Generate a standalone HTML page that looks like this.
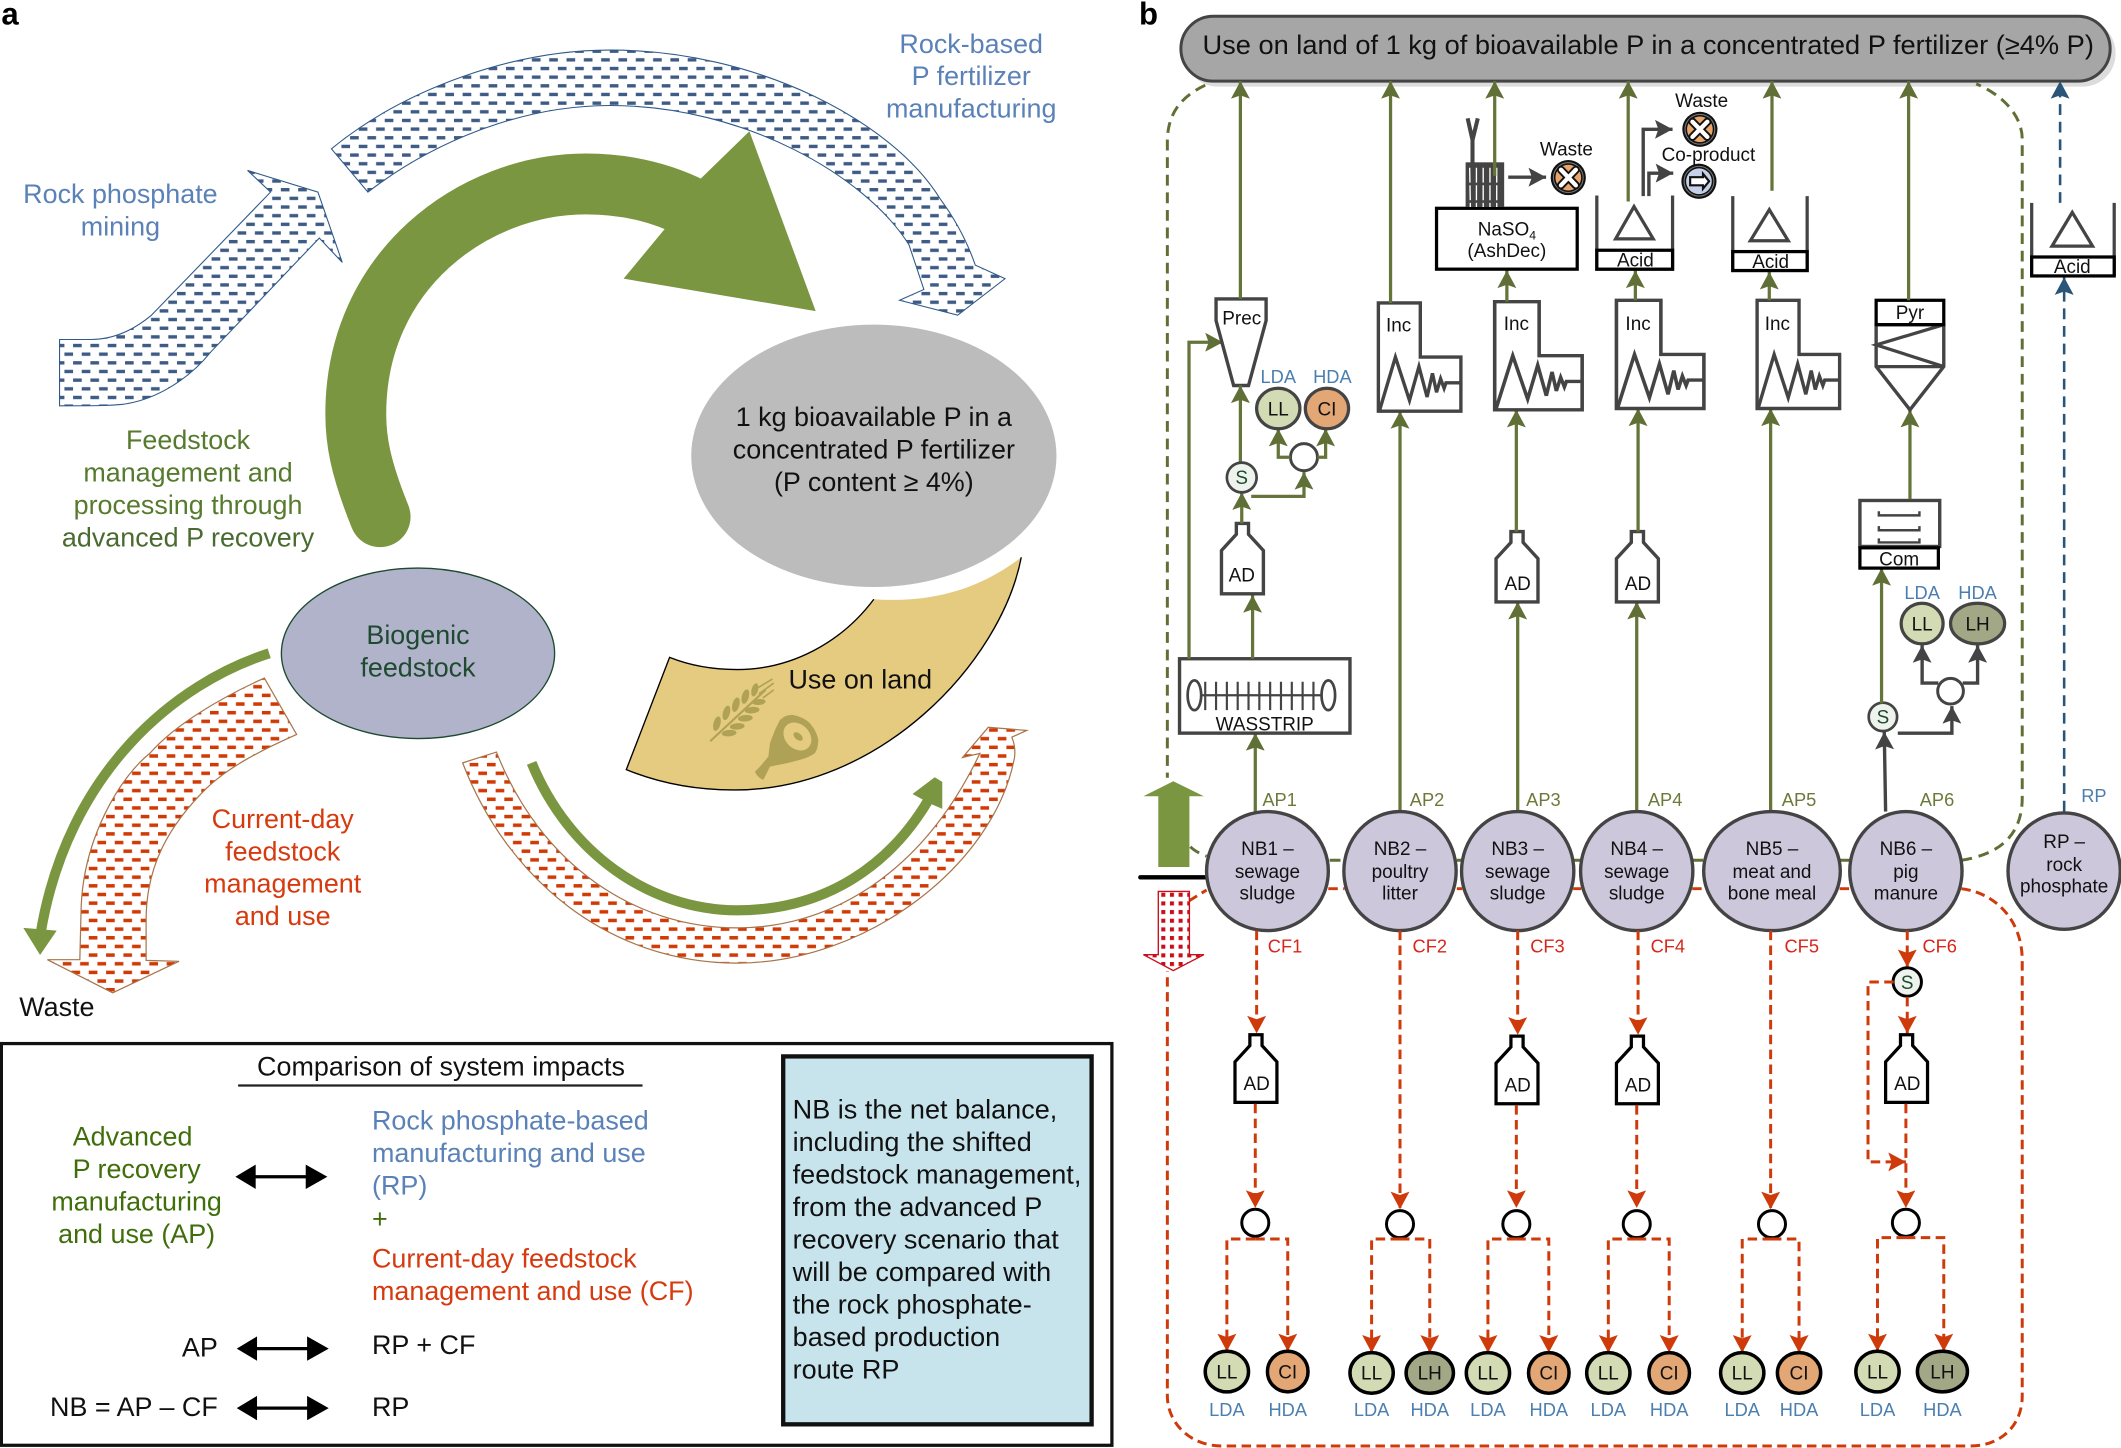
<!DOCTYPE html>
<html><head><meta charset="utf-8"><style>
html,body{margin:0;padding:0;background:#fff}
svg{display:block}
text{font-family:"Liberation Sans",sans-serif}
.l{font-size:19.9px}
.m{font-size:14px;fill:#111}
.s{font-size:13.5px}
.c{text-anchor:middle}
.b{fill:#5a82b8}.g{fill:#567a2e}.r{fill:#d63a0f}
.ol{fill:none;stroke:#657539;stroke-width:2.4}
.gy{fill:none;stroke:#444;stroke-width:2.5}
.rd{fill:none;stroke:#cf3a0a;stroke-width:2.2;stroke-dasharray:7 4}
.nv{fill:none;stroke:#2a5578;stroke-width:1.9;stroke-dasharray:8 5}
.nb{fill:#cdc7dc;stroke:#444;stroke-width:2.5}
.box{fill:#fff;stroke:#444;stroke-width:2.5}
.bk{fill:#fff;stroke:#000;stroke-width:2.4}
.ll{fill:#d3dbb5}.ci{fill:#e2a775}.lh{fill:#a2a886}
.lda{fill:#4a7fb0;font-size:13.5px;text-anchor:middle}
.ap{fill:#6b7a3a;font-size:13.5px}
.cf{fill:#d8261a;font-size:13.5px}
</style></head><body>
<svg width="2121" height="1448" viewBox="0 0 1568 1070.5" xmlns="http://www.w3.org/2000/svg">
<defs>
<pattern id="pb" x="54" y="254.2" width="12.8" height="12.8" patternUnits="userSpaceOnUse"><rect width="12.8" height="12.8" fill="#fff"/><rect x="0" y="0" width="6.4" height="2.5" fill="#3d5b84"/><rect x="6.4" y="6.4" width="6.4" height="2.5" fill="#3d5b84"/></pattern>
<pattern id="pr" x="40" y="500" width="12.8" height="12.8" patternUnits="userSpaceOnUse"><rect width="12.8" height="12.8" fill="#fff"/><rect x="0" y="0" width="6.4" height="2.6" fill="#d03a05"/><rect x="6.4" y="6.4" width="6.4" height="2.6" fill="#d03a05"/></pattern>
<pattern id="pd" x="858.5" y="660" width="6.4" height="6.4" patternUnits="userSpaceOnUse"><rect width="6.4" height="6.4" fill="#fff"/><rect x="0" y="0" width="3" height="3" fill="#c8101c"/></pattern>
<marker id="mo" markerUnits="userSpaceOnUse" markerWidth="14" markerHeight="14" refX="13" refY="7" orient="auto"><path d="M0 0L13 7L0 14L2.5 7Z" fill="#5f6f35"/></marker>
<marker id="mg" markerUnits="userSpaceOnUse" markerWidth="14" markerHeight="14" refX="13" refY="7" orient="auto"><path d="M0 0L13 7L0 14L2.5 7Z" fill="#444"/></marker>
<marker id="mr" markerUnits="userSpaceOnUse" markerWidth="14" markerHeight="14" refX="13" refY="7" orient="auto"><path d="M0 0L13 7L0 14L2.5 7Z" fill="#cf3a0a"/></marker>
<marker id="mn" markerUnits="userSpaceOnUse" markerWidth="14" markerHeight="14" refX="13" refY="7" orient="auto"><path d="M0 0L13 7L0 14L2.5 7Z" fill="#2a5578"/></marker>
<g id="incs"><path class="box" d="M0 0H31V40H61V80H0Z"/><path class="gy" d="M1 79L12.600000000000001 40L23 72L30 47L36 69.5L40 52L43 66L46 56L48.6 63L50 59L61 59"/></g>
<path id="adg" class="box" d="M11 0H20V8L31 20V52H0V20L11 8Z"/>
<path id="adk" class="bk" d="M11 0H20V8L31 20V50H0V20L11 8Z"/>
</defs>

<!-- PANEL A -->
<text x="1" y="18" font-size="23" font-weight="bold">a</text>
<path d="M44 251L67 251C85 251 100 243 112 233L200 142L183 126L235 142L253 194L236 176L156 260C140 280 115 296 90 299C80 300 67 300 44 300Z" fill="url(#pb)" stroke="#2f5a8a" stroke-width=".8"/>
<path d="M245 110C300 65 380 37 451 37C560 37 660 90 695 147Q712 170 721 196L743 206L708 233L665 222L683 214L672 181C640 130 550 78 451 78C385 78 320 105 272 142Z" fill="url(#pb)" stroke="#2f5a8a" stroke-width=".8"/>
<path d="M281 382C266 345 263 325 263 306C263 200 350 136 433 136C465 136 490 143 512 154" fill="none" stroke="#7a9640" stroke-width="45" stroke-linecap="round"/>
<path d="M554 97L603 230L461 206L495 165L515 135Z" fill="#7a9640"/>
<ellipse cx="646" cy="337" rx="135" ry="97" fill="#bcbcbc"/>
<ellipse cx="309" cy="483" rx="101" ry="63" fill="#b1b3cb" stroke="#1e4a30" stroke-width="1"/>
<path d="M495 486C510 492 527 495 545 495C585 495 622 475 646 443C690 446 725 435 755 412C740 490 650 585 542 584C510 584 485 578 463 569Z" fill="#e5cb7f"/>
<path d="M646 443C622 475 585 495 545 495C527 495 510 492 495 486L463 569C485 578 510 584 542 584C650 585 740 490 755 412" fill="none" stroke="#000" stroke-width="1"/>
<g fill="#afa257"><path d="M525 548L566 510" stroke="#afa257" stroke-width="1.6"/>
<ellipse cx="530" cy="535" rx="5.5" ry="2.6" transform="rotate(-75 530 535)"/><ellipse cx="537" cy="527" rx="5.5" ry="2.6" transform="rotate(-75 537 527)"/><ellipse cx="544" cy="521" rx="5.5" ry="2.6" transform="rotate(-75 544 521)"/><ellipse cx="551" cy="515" rx="5.5" ry="2.6" transform="rotate(-75 551 515)"/><ellipse cx="558" cy="510" rx="5" ry="2.4" transform="rotate(-75 558 510)"/>
<ellipse cx="539" cy="542" rx="5.5" ry="2.4" transform="rotate(-5 539 542)"/><ellipse cx="545" cy="537" rx="5.5" ry="2.4" transform="rotate(-5 545 537)"/><ellipse cx="551" cy="531" rx="5.5" ry="2.4" transform="rotate(-5 551 531)"/><ellipse cx="556" cy="525" rx="5.5" ry="2.4" transform="rotate(-5 556 525)"/><ellipse cx="561" cy="519" rx="5" ry="2.2" transform="rotate(-5 561 519)"/>
<path d="M556 511L571 502M561 513L572 505M564 516L572 510" stroke="#afa257" stroke-width="1.2"/>
<path d="M576.6 532.3Q581 528 586.4 528.6Q594 530 598.8 534.7Q604 541 604.9 547Q605 553 602.4 556.9Q598 560 591.4 561.8L581.5 564.3L569.2 566.8L564.3 576.6Q560 575 558.1 570.5L561.8 566.8L568 559.4L569.2 549.5L572.9 539.7Z"/></g>
<ellipse cx="589.5" cy="544.5" rx="11.5" ry="9" fill="#e5cb7f" transform="rotate(45 589.5 544.5)"/><ellipse cx="590" cy="544.5" rx="4" ry="2.4" fill="#afa257" transform="rotate(40 590 544.5)"/>
<path d="M195.4 501.3L219.3 543C190 556 168 568 152.8 582.6C125 610 108 640 108 680L108 710L132.3 710.7L83.3 734L35 709.5L59 709.5L60 670C62 620 88 575 111 556.7C130 535 165 515 195.4 501.3Z" fill="url(#pr)" stroke="#a8744a" stroke-width=".9"/>
<path d="M199 483C130 505 50 570 30 690" fill="none" stroke="#7a9640" stroke-width="7.4"/>
<path d="M17.2 686L41.9 688L29.6 706Z" fill="#7a9640"/>
<path d="M342 564L367 556C400 640 470 686 545 686C610 686 680 650 724.4 557L711.6 560L730.6 537.7L759 540L748 545Q751 552 750 560C735 640 640 712 545 712C450 712 375 650 342 564Z" fill="url(#pr)" stroke="#a8744a" stroke-width=".9"/>
<path d="M393 564C420 630 480 673 545 673C610 673 660 640 690 585" fill="none" stroke="#7a9640" stroke-width="7.5"/>
<path d="M691 574.6L696.6 578L696.6 598L687.5 594L674.6 587Z" fill="#7a9640"/>

<g class="l c">
<text x="718" y="39" class="b">Rock-based</text><text x="718" y="63" class="b">P fertilizer</text><text x="718" y="87" class="b">manufacturing</text>
<text x="89" y="150" class="b">Rock phosphate</text><text x="89" y="174" class="b">mining</text>
<text x="139" y="332" class="g">Feedstock</text><text x="139" y="356" class="g">management and</text><text x="139" y="380" class="g">processing through</text><text x="139" y="404" fill="#4a6b30">advanced P recovery</text>
<text x="646" y="315" fill="#111">1 kg bioavailable P in a</text><text x="646" y="339" fill="#111">concentrated P fertilizer</text><text x="646" y="363" fill="#111">(P content ≥ 4%)</text>
<text x="309" y="476" fill="#1e4a30">Biogenic</text><text x="309" y="500" fill="#1e4a30">feedstock</text>
<text x="636" y="509" fill="#111">Use on land</text>
<text x="209" y="612" class="r">Current-day</text><text x="209" y="636" class="r">feedstock</text><text x="209" y="660" class="r">management</text><text x="209" y="684" class="r">and use</text>
<text x="42" y="751" fill="#111">Waste</text>
</g>

<!-- LEGEND -->
<rect x="1" y="771.5" width="821" height="297" fill="#fff" stroke="#111" stroke-width="2.4"/>
<text x="326" y="795" class="l c" fill="#111">Comparison of system impacts</text>
<path d="M176 802.5H475" stroke="#222" stroke-width="1.6"/>
<g class="l c" fill="#3f6e0a"><text x="98" y="847">Advanced</text><text x="101" y="871">P recovery</text><text x="101" y="895">manufacturing</text><text x="101" y="919">and use (AP)</text></g>
<g class="l">
<text x="275" y="835" class="b">Rock phosphate-based</text><text x="275" y="859" class="b">manufacturing and use</text><text x="275" y="883" class="b">(RP)</text>
<text x="275" y="908" fill="#3f6e0a">+</text>
<text x="275" y="937" class="r">Current-day feedstock</text><text x="275" y="961" class="r">management and use (CF)</text>
<text x="275" y="1001" fill="#111">RP + CF</text><text x="275" y="1047" fill="#111">RP</text>
<text x="161" y="1003" fill="#111" text-anchor="end">AP</text><text x="161" y="1047" fill="#111" text-anchor="end">NB = AP – CF</text>
</g>
<g fill="#000"><path d="M185 870H232" stroke="#000" stroke-width="2.4"/><path d="M174 870L189 861V879Z"/><path d="M242 870L226 861V879Z"/>
<path d="M185 997H232" stroke="#000" stroke-width="2.4"/><path d="M175 997L190 988V1006Z"/><path d="M243 997L227 988V1006Z"/>
<path d="M185 1041H232" stroke="#000" stroke-width="2.4"/><path d="M175 1041L190 1032V1050Z"/><path d="M243 1041L227 1032V1050Z"/></g>
<rect x="579" y="781" width="228" height="272" fill="#c7e4ed" stroke="#111" stroke-width="3.2"/>
<g class="l" fill="#111" style="font-size:20px"><text x="586" y="827">NB is the net balance,</text><text x="586" y="851">including the shifted</text><text x="586" y="875">feedstock management,</text><text x="586" y="899">from the advanced P</text><text x="586" y="923">recovery scenario that</text><text x="586" y="947">will be compared with</text><text x="586" y="971">the rock phosphate-</text><text x="586" y="995">based production</text><text x="586" y="1019">route RP</text></g>

<!-- PANEL B -->
<text x="842" y="18" font-size="23" font-weight="bold">b</text>
<rect x="876" y="15" width="688" height="49" rx="24" fill="#dcdcdc"/>
<rect x="873" y="12" width="687" height="48" rx="24" fill="#a6a6a6" stroke="#444" stroke-width="2.2"/>
<text x="889" y="40" font-size="20" fill="#111" textLength="659" lengthAdjust="spacingAndGlyphs">Use on land of 1 kg of bioavailable P in a concentrated P fertilizer (≥4% P)</text>

<!-- dashed loops -->
<path d="M891 63C872 72 863 85 863 105V575M880 626Q884 630 892 633M983 636H994M1077 636H1081M1163 636H1169M1251 636H1259M1360 636H1368M1450 636C1475 632 1495 620 1495 590V103C1495 85 1480 70 1461 62" fill="none" stroke="#5f6f35" stroke-width="2.2" stroke-dasharray="8 5"/>
<path d="M879 666L892 658M982 657H994M1077 657H1081M1163 657H1169M1251 657H1259M1360 657H1368M1450 657C1475 660 1495 680 1495 710V1032C1495 1055 1478 1069 1457 1069H903C880 1069 863 1052 863 1032V718" fill="none" stroke="#cf3a0a" stroke-width="2.2" stroke-dasharray="7 4"/>
<path d="M856.3 641V588.7H845.3L867.4 577.6L890 588.7H879.3V641Z" fill="#7a9640"/>
<path d="M843 648.6H892" stroke="#000" stroke-width="3.2" stroke-linecap="round"/>
<path d="M856.3 659H879.3V705.8H890L867.4 717.6L845.3 705.8H856.3Z" fill="url(#pd)" stroke="#c8101c" stroke-width="1"/>

<!-- AP1 -->
<path class="ol" d="M928 600V542" marker-end="url(#mo)"/>
<rect class="box" x="872" y="487" width="126" height="55"/>
<ellipse cx="883" cy="514" rx="5" ry="11" fill="#fff" stroke="#444" stroke-width="2"/><ellipse cx="982" cy="514" rx="5" ry="11" fill="#fff" stroke="#444" stroke-width="2"/>
<path d="M888 514H977M891 504V525M899 504V525M907 504V525M915 504V525M923 504V525M931 504V525M939 504V525M947 504V525M955 504V525M963 504V525M971 504V525" stroke="#444" stroke-width="1.6"/>
<text x="935" y="540" class="m c">WASSTRIP</text>
<path class="ol" d="M926 487V440" marker-end="url(#mo)"/>
<use href="#adg" x="903" y="387"/><text x="918" y="430" class="m c">AD</text>
<path class="ol" d="M918 387V364" marker-end="url(#mo)"/>
<path class="ol" d="M879 487V253H904" marker-end="url(#mo)"/>
<path class="box" d="M899 221H936V237L923 285H912L899 237Z"/><text x="918" y="240" class="m c">Prec</text>
<path class="ol" d="M917 342V285" marker-end="url(#mo)"/>
<path class="ol" d="M917 221V60" marker-end="url(#mo)"/>
<circle cx="918" cy="353" r="11" fill="#eef3ee" stroke="#444" stroke-width="2"/><text x="918" y="358" class="m c" style="fill:#1e4a30">S</text>
<path class="ol" d="M925 367H964V349" marker-end="url(#mo)"/>
<circle cx="964" cy="338" r="10" fill="#fff" stroke="#444" stroke-width="2.2"/>
<path class="ol" d="M954 338H945V317" marker-end="url(#mo)"/><path class="ol" d="M974 338H980V317" marker-end="url(#mo)"/>
<ellipse class="ll" cx="945" cy="302" rx="16" ry="15" stroke="#444" stroke-width="2.4"/><ellipse class="ci" cx="981" cy="302" rx="16" ry="15" stroke="#444" stroke-width="2.4"/>
<text x="945" y="307" class="m c">LL</text><text x="981" y="307" class="m c">CI</text><text x="945" y="283" class="lda">LDA</text><text x="985" y="283" class="lda">HDA</text>

<!-- AP2 -->
<path class="ol" d="M1035 600V304" marker-end="url(#mo)"/>
<use href="#incs" x="1019" y="224"/><text x="1034" y="245" class="m c">Inc</text>
<path class="ol" d="M1028 224V60" marker-end="url(#mo)"/>

<!-- AP3 -->
<path class="ol" d="M1122 600V445" marker-end="url(#mo)"/>
<use href="#adg" x="1106" y="393"/><text x="1122" y="436" class="m c">AD</text>
<path class="ol" d="M1121 393V303" marker-end="url(#mo)"/>
<use href="#incs" transform="translate(1105 223) scale(1.06 1)"/><text x="1121" y="244" class="m c">Inc</text>
<path class="ol" d="M1114 223V200" marker-end="url(#mo)"/>
<rect class="bk" x="1062" y="154" width="104" height="45"/>
<text x="1114" y="174" class="m c">NaSO<tspan font-size="9" dy="3">4</tspan></text><text x="1114" y="190" class="m c">(AshDec)</text>
<rect x="1083.5" y="120" width="28.5" height="33" fill="#444"/>
<path d="M1086.5 124L1087 153M1091.5 124L1091.5 153M1096.5 124L1096.5 153M1101.5 124L1101.5 153M1106.5 124L1106.5 153" stroke="#fff" stroke-width="1" stroke-dasharray="11 2"/>
<path d="M1088.6 121V103.5L1085 87.5M1088.6 103.5L1092.5 87.5" fill="none" stroke="#444" stroke-width="3"/>
<path class="ol" d="M1105 130V60" marker-end="url(#mo)"/>
<path class="gy" d="M1115 131H1143" marker-end="url(#mg)"/>
<circle cx="1159.4" cy="131.3" r="13" fill="#111"/><circle cx="1159.4" cy="131.3" r="11" fill="none" stroke="#777" stroke-width=".8"/><circle cx="1159.4" cy="131.3" r="9.5" fill="#e8a56c"/><path d="M1154 125.5L1165 137M1165 125.5L1154 137" stroke="#111" stroke-width="6" stroke-linecap="round"/><path d="M1154 125.5L1165 137M1165 125.5L1154 137" stroke="#fff" stroke-width="3.2" stroke-linecap="round"/>
<text x="1158" y="115" class="m c">Waste</text>

<!-- AP4 -->
<path class="ol" d="M1210 600V445" marker-end="url(#mo)"/>
<use href="#adg" x="1195" y="393"/><text x="1211" y="436" class="m c">AD</text>
<path class="ol" d="M1211 393V302" marker-end="url(#mo)"/>
<use href="#incs" transform="translate(1195 222) scale(1.06 1)"/><text x="1211" y="244" class="m c">Inc</text>
<path class="ol" d="M1209 222V200" marker-end="url(#mo)"/>
<path d="M1180.5 144.5V199H1236.5V144.5" fill="none" stroke="#444" stroke-width="2.4"/>
<rect x="1180.5" y="185" width="56" height="14" class="bk"/><text x="1209" y="197" class="m c">Acid</text>
<path d="M1208 152.7L1194.4 176.6H1222.2Z" fill="#fff" stroke="#444" stroke-width="2.4"/>
<path class="ol" d="M1203.7 149V60" marker-end="url(#mo)"/>
<path class="gy" d="M1214.8 145V95.6H1236.5" marker-end="url(#mg)"/><path class="gy" d="M1219 145V128H1237" marker-end="url(#mg)"/>
<circle cx="1256.7" cy="95.6" r="13" fill="#111"/><circle cx="1256.7" cy="95.6" r="11" fill="none" stroke="#777" stroke-width=".8"/><circle cx="1256.7" cy="95.6" r="9.5" fill="#e8a56c"/><path d="M1251.2 90L1262.2 101.2M1262.2 90L1251.2 101.2" stroke="#111" stroke-width="6" stroke-linecap="round"/><path d="M1251.2 90L1262.2 101.2M1262.2 90L1251.2 101.2" stroke="#fff" stroke-width="3.2" stroke-linecap="round"/>
<circle cx="1256" cy="134" r="13" fill="#111"/><circle cx="1256" cy="134" r="11" fill="none" stroke="#777" stroke-width=".8"/><circle cx="1256" cy="134" r="9.5" fill="#c6d0e8"/><path d="M1249.5 131H1259V128.5L1263.5 134L1259 139.5V137H1249.5Z" fill="#fff" stroke="#111" stroke-width="1.6"/>
<text x="1258" y="79" class="m c">Waste</text><text x="1263" y="119" class="m c">Co-product</text>

<!-- AP5 -->
<path class="ol" d="M1309 600V302" marker-end="url(#mo)"/>
<use href="#incs" x="1299" y="222"/><text x="1314" y="244" class="m c">Inc</text>
<path class="ol" d="M1308 222V201" marker-end="url(#mo)"/>
<path d="M1281 145V200H1336V145" fill="none" stroke="#444" stroke-width="2.4"/>
<rect x="1281" y="186" width="55" height="14" class="bk"/><text x="1309" y="198" class="m c">Acid</text>
<path d="M1308 155L1294 178H1322Z" fill="#fff" stroke="#444" stroke-width="2.4"/>
<path class="ol" d="M1310 141V60" marker-end="url(#mo)"/>

<!-- AP6 -->
<path class="gy" d="M1394 600L1393 541" marker-end="url(#mg)"/>
<circle cx="1392" cy="530" r="10.5" fill="#eef3ee" stroke="#444" stroke-width="2"/><text x="1392" y="535" class="m c" style="fill:#1e4a30">S</text>
<path class="ol" d="M1391 520V420" marker-end="url(#mo)"/>
<rect class="box" x="1375" y="370" width="59" height="34"/>
<rect class="bk" x="1375" y="405" width="58" height="15"/><text x="1404" y="418" class="m c">Com</text>
<path d="M1389 378V381H1419V378M1389 389V392H1419V389M1389 398V401H1419V398" fill="none" stroke="#444" stroke-width="1.8"/>
<path class="gy" d="M1403 542H1443V522" marker-end="url(#mg)"/>
<circle cx="1442" cy="511" r="9.5" fill="#fff" stroke="#444" stroke-width="2.2"/>
<path class="gy" d="M1433 505H1421V477" marker-end="url(#mg)"/><path class="gy" d="M1451 505H1462V477" marker-end="url(#mg)"/>
<ellipse class="ll" cx="1421" cy="461" rx="15.5" ry="15" stroke="#444" stroke-width="2.4"/><ellipse class="lh" cx="1462" cy="461" rx="20" ry="15" stroke="#444" stroke-width="2.4"/>
<text x="1421" y="466" class="m c">LL</text><text x="1462" y="466" class="m c">LH</text><text x="1421" y="443" class="lda">LDA</text><text x="1462" y="443" class="lda">HDA</text>
<path class="ol" d="M1412 369V303" marker-end="url(#mo)"/>
<path class="box" d="M1387 240H1437V271L1412 303L1387 271Z"/>
<path d="M1387 240L1437 240L1387 255L1437 271H1387" fill="none" stroke="#444" stroke-width="2.4"/>
<rect class="bk" x="1387" y="222" width="50" height="18"/><text x="1412" y="236" class="m c">Pyr</text>
<path class="ol" d="M1411 222V60" marker-end="url(#mo)"/>

<!-- RP -->
<path class="nv" d="M1526 600V205" marker-end="url(#mn)"/>
<path d="M1502 150V203H1563V150" fill="none" stroke="#444" stroke-width="2.4"/>
<rect x="1502" y="190" width="61" height="14" class="bk"/><text x="1532" y="202" class="m c">Acid</text>
<path d="M1532 157L1517 182H1547Z" fill="#fff" stroke="#444" stroke-width="2.4"/>
<path class="nv" d="M1523 150V60" marker-end="url(#mn)"/>

<!-- NB nodes -->
<ellipse class="nb" cx="937" cy="644" rx="45" ry="44"/><ellipse class="nb" cx="1035" cy="644" rx="41.5" ry="44"/><ellipse class="nb" cx="1122" cy="644" rx="41.5" ry="44"/><ellipse class="nb" cx="1210" cy="644" rx="41.5" ry="44"/><ellipse class="nb" cx="1310" cy="644" rx="50.5" ry="44"/><ellipse class="nb" cx="1409" cy="644" rx="41.5" ry="44"/><ellipse class="nb" cx="1526" cy="644" rx="41.5" ry="43"/>
<g class="m c">
<text x="937" y="632">NB1 –</text><text x="937" y="649">sewage</text><text x="937" y="665">sludge</text>
<text x="1035" y="632">NB2 –</text><text x="1035" y="649">poultry</text><text x="1035" y="665">litter</text>
<text x="1122" y="632">NB3 –</text><text x="1122" y="649">sewage</text><text x="1122" y="665">sludge</text>
<text x="1210" y="632">NB4 –</text><text x="1210" y="649">sewage</text><text x="1210" y="665">sludge</text>
<text x="1310" y="632">NB5 –</text><text x="1310" y="649">meat and</text><text x="1310" y="665">bone meal</text>
<text x="1409" y="632">NB6 –</text><text x="1409" y="649">pig</text><text x="1409" y="665">manure</text>
<text x="1526" y="627">RP –</text><text x="1526" y="644">rock</text><text x="1526" y="660">phosphate</text>
</g>
<text x="946" y="596" class="ap c">AP1</text><text x="1055" y="596" class="ap c">AP2</text><text x="1141" y="596" class="ap c">AP3</text><text x="1231" y="596" class="ap c">AP4</text><text x="1330" y="596" class="ap c">AP5</text><text x="1432" y="596" class="ap c">AP6</text><text x="1548" y="593" class="c" font-size="13.5" fill="#4a7fb0">RP</text>
<text x="950" y="704" class="cf c">CF1</text><text x="1057" y="704" class="cf c">CF2</text><text x="1144" y="704" class="cf c">CF3</text><text x="1233" y="704" class="cf c">CF4</text><text x="1332" y="704" class="cf c">CF5</text><text x="1434" y="704" class="cf c">CF6</text>

<!-- CF columns -->
<path class="rd" d="M929 688V764" marker-end="url(#mr)"/><use href="#adk" x="913" y="765"/><text x="929" y="806" class="m c">AD</text>
<path class="rd" d="M928 816V893" marker-end="url(#mr)"/>
<path class="rd" d="M1035 688V894" marker-end="url(#mr)"/>
<path class="rd" d="M1122 688V765" marker-end="url(#mr)"/><use href="#adk" x="1106" y="766"/><text x="1122" y="807" class="m c">AD</text>
<path class="rd" d="M1121 817V893" marker-end="url(#mr)"/>
<path class="rd" d="M1211 688V765" marker-end="url(#mr)"/><use href="#adk" x="1195" y="766"/><text x="1211" y="807" class="m c">AD</text>
<path class="rd" d="M1210 817V893" marker-end="url(#mr)"/>
<path class="rd" d="M1309 688V894" marker-end="url(#mr)"/>
<path class="rd" d="M1410 688V715" marker-end="url(#mr)"/>
<circle cx="1410" cy="726" r="10.5" fill="#eef3ee" stroke="#000" stroke-width="2.2"/><text x="1410" y="731" class="m c" style="fill:#1e4a30">S</text>
<path class="rd" d="M1410 737V764" marker-end="url(#mr)"/><use href="#adk" x="1394" y="765"/><text x="1410" y="806" class="m c">AD</text>
<path class="rd" d="M1409 816V893" marker-end="url(#mr)"/>
<path class="rd" d="M1400 726H1381V859H1409" marker-end="url(#mr)"/>

<g fill="#fff" stroke="#000" stroke-width="2.2"><circle cx="928" cy="904" r="10"/><circle cx="1035" cy="905" r="10"/><circle cx="1121" cy="905" r="10"/><circle cx="1210" cy="905" r="10"/><circle cx="1310" cy="905" r="10"/><circle cx="1409" cy="904" r="10"/></g>

<path class="rd" d="M928 916H907V999" marker-end="url(#mr)"/><path class="rd" d="M928 916H952V999" marker-end="url(#mr)"/>
<path class="rd" d="M1035 916H1014V1000" marker-end="url(#mr)"/><path class="rd" d="M1035 916H1057V1000" marker-end="url(#mr)"/>
<path class="rd" d="M1121 916H1100V1000" marker-end="url(#mr)"/><path class="rd" d="M1121 916H1145V1000" marker-end="url(#mr)"/>
<path class="rd" d="M1210 916H1189V1000" marker-end="url(#mr)"/><path class="rd" d="M1210 916H1234V1000" marker-end="url(#mr)"/>
<path class="rd" d="M1310 916H1288V1000" marker-end="url(#mr)"/><path class="rd" d="M1310 916H1330V1000" marker-end="url(#mr)"/>
<path class="rd" d="M1409 915H1388V999" marker-end="url(#mr)"/><path class="rd" d="M1409 915H1437V999" marker-end="url(#mr)"/>

<g stroke="#000" stroke-width="2.6">
<ellipse class="ll" cx="907" cy="1014" rx="16" ry="15"/><ellipse class="ci" cx="952" cy="1014" rx="15" ry="15"/>
<ellipse class="ll" cx="1014" cy="1015" rx="16" ry="15"/><ellipse class="lh" cx="1057" cy="1015" rx="17.5" ry="15"/>
<ellipse class="ll" cx="1100" cy="1015" rx="16" ry="15"/><ellipse class="ci" cx="1145" cy="1015" rx="15" ry="15"/>
<ellipse class="ll" cx="1189" cy="1015" rx="16" ry="15"/><ellipse class="ci" cx="1234" cy="1015" rx="15" ry="15"/>
<ellipse class="ll" cx="1288" cy="1015" rx="16" ry="15"/><ellipse class="ci" cx="1330" cy="1015" rx="16" ry="15"/>
<ellipse class="ll" cx="1388" cy="1014" rx="16" ry="15"/><ellipse class="lh" cx="1436" cy="1014" rx="18.5" ry="15"/>
</g>
<g class="m c">
<text x="907" y="1019">LL</text><text x="952" y="1019">CI</text><text x="1014" y="1020">LL</text><text x="1057" y="1020">LH</text><text x="1100" y="1020">LL</text><text x="1145" y="1020">CI</text><text x="1189" y="1020">LL</text><text x="1234" y="1020">CI</text><text x="1288" y="1020">LL</text><text x="1330" y="1020">CI</text><text x="1388" y="1019">LL</text><text x="1436" y="1019">LH</text>
</g>
<text x="907" y="1047" class="lda">LDA</text><text x="952" y="1047" class="lda">HDA</text><text x="1014" y="1047" class="lda">LDA</text><text x="1057" y="1047" class="lda">HDA</text><text x="1100" y="1047" class="lda">LDA</text><text x="1145" y="1047" class="lda">HDA</text><text x="1189" y="1047" class="lda">LDA</text><text x="1234" y="1047" class="lda">HDA</text><text x="1288" y="1047" class="lda">LDA</text><text x="1330" y="1047" class="lda">HDA</text><text x="1388" y="1047" class="lda">LDA</text><text x="1436" y="1047" class="lda">HDA</text>
</svg>
</body></html>
